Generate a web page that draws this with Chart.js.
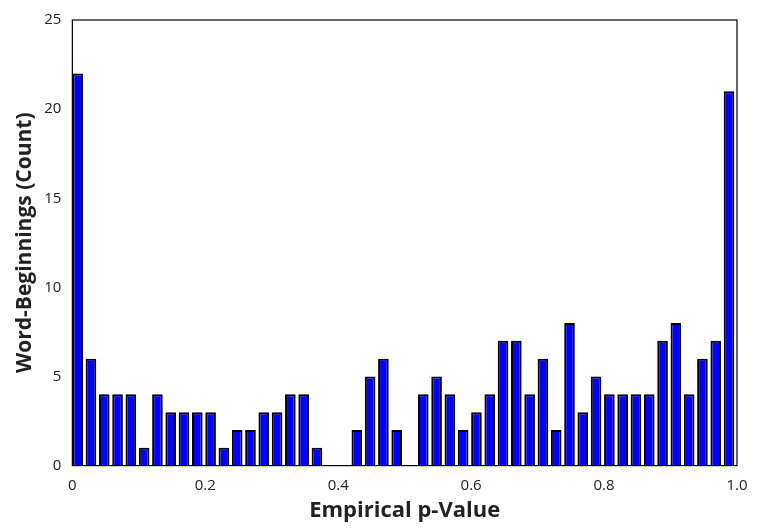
<!DOCTYPE html>
<html><head><meta charset="utf-8">
<script src="https://cdn.jsdelivr.net/npm/chart.js@4"></script>
<style>html,body{margin:0;padding:0;background:#fff}#w{width:763px;height:530px}</style>
</head><body><div id="w"><canvas id="c"></canvas></div>
<script>
const binStarts = Array.from({length:50},(_,i)=>i/50);
const counts = [22,6,4,4,4,1,4,3,3,3,3,1,2,2,3,3,4,4,1,0,0,2,5,6,2,0,4,5,4,2,3,4,7,7,4,6,2,8,3,5,4,4,4,4,7,8,4,6,7,21];
const xTicks = [0,0.2,0.4,0.6,0.8,1.0];
const data = counts.map((v,i)=>({x:binStarts[i]+0.008,y:v}));
const frame = {id:'frame',afterDraw(ch){const a=ch.chartArea,c=ch.ctx;c.save();c.strokeStyle='#000';c.lineWidth=1.2;c.strokeRect(a.left,a.top,a.right-a.left,a.bottom-a.top);c.restore();}};
new Chart(document.getElementById('c'),{type:'bar',
data:{datasets:[{data,backgroundColor:'#0000ff',borderColor:'#000',borderWidth:2,barPercentage:0.8,categoryPercentage:1,grouped:false}]},
options:{responsive:true,maintainAspectRatio:false,animation:false,
layout:{padding:{top:20,right:26,left:8,bottom:2}},
plugins:{legend:{display:false},tooltip:{enabled:false}},
scales:{
x:{type:'linear',min:0,max:1,offset:false,grid:{display:false},border:{display:false},
 afterBuildTicks(s){s.ticks=xTicks.map(v=>({value:v}));},
 ticks:{color:'#222',font:{family:'Open Sans',size:15},callback:v=>v===0?'0':v.toFixed(1),maxRotation:0},
 title:{display:true,text:'Empirical p-Value',color:'#222',font:{family:'Open Sans',size:22,weight:'bold'},padding:{top:0}}},
y:{min:0,max:25,grid:{display:false},border:{display:false},
 ticks:{stepSize:5,color:'#222',font:{family:'Open Sans',size:15}},
 title:{display:true,text:'Word-Beginnings (Count)',color:'#222',font:{family:'Open Sans',size:21,weight:'bold'}}}}},
plugins:[frame]});
</script></body></html>
